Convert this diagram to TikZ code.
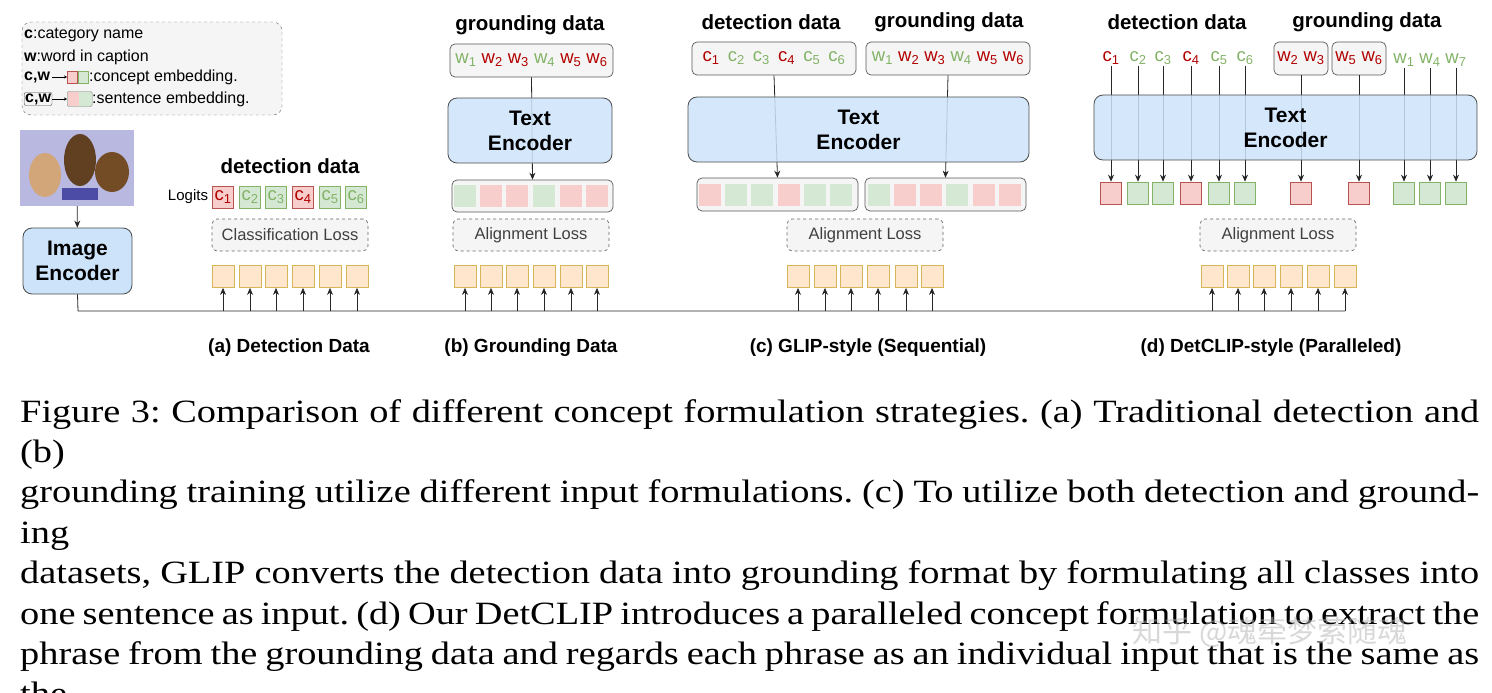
\documentclass[tikz,border=0pt]{standalone}
\usepackage{fontspec}
\setmainfont{Liberation Serif}
\newfontfamily\capf{Liberation Serif}[FakeStretch=1.18]
\newfontfamily\dsans{Liberation Sans}
\newfontfamily\cjkf{Noto Sans CJK SC}
\usetikzlibrary{arrows.meta}
\definecolor{rf}{HTML}{F8CECC}\definecolor{rb}{HTML}{B85450}
\definecolor{gf}{HTML}{D5E8D4}\definecolor{gb}{HTML}{82B366}
\definecolor{yf}{HTML}{FFE6CC}\definecolor{yb}{HTML}{D6B656}
\definecolor{bf}{HTML}{CCE3FA}\definecolor{gbox}{HTML}{F5F5F5}
\definecolor{rt}{HTML}{B20000}\definecolor{gt}{HTML}{82B366}
\begin{document}
\frenchspacing
\begin{tikzpicture}[x=1pt,y=-1pt,
  every node/.style={font=\dsans},
  title/.style={font=\dsans\bfseries\fontsize{20.5}{22}\selectfont},
  sub/.style={font=\dsans\bfseries\fontsize{19}{20}\selectfont},
  lbl/.style={font=\dsans\fontsize{18.5}{20}\selectfont},
  enc/.style={draw=black!70,fill=bf,fill opacity=0.85,text opacity=1,rounded corners=9pt,line width=0.8pt,font=\dsans\bfseries\fontsize{21}{25}\selectfont,align=center,inner sep=0},
  gb/.style={draw=black!65,fill=gbox,rounded corners=5pt,line width=0.7pt,inner sep=0},
  loss/.style={draw=black!60,dashed,fill=gbox,rounded corners=5pt,line width=0.7pt,minimum width=156pt,minimum height=32pt,font=\dsans\fontsize{16.5}{18}\selectfont,text=black!75},
  ysq/.style={draw=yb,fill=yf,line width=0.8pt,minimum width=22pt,minimum height=22pt,inner sep=0},
  rsq/.style={draw=rb,fill=rf,line width=0.7pt,minimum width=21pt,minimum height=22pt,inner sep=0},
  gsq/.style={draw=gb,fill=gf,line width=0.7pt,minimum width=21pt,minimum height=22pt,inner sep=0},
  re/.style={fill=rf,minimum width=22pt,minimum height=22pt,inner sep=0},
  ge/.style={fill=gf,minimum width=22pt,minimum height=22pt,inner sep=0},
  arr/.style={-{Stealth[length=7pt,width=6pt]},line width=0.8pt},
  ln/.style={line width=0.8pt,black!85}]
\useasboundingbox (0,0) rectangle (1492,693);
% legend
\node[draw=black!60,dashed,fill=gbox,rounded corners=9pt,minimum width=260pt,minimum height=93pt,inner sep=0] (leg) at (152,68.5) {};
\begin{scope}[every node/.style={font=\dsans\fontsize{16}{18}\selectfont,anchor=west,inner sep=0}]
\node (l1) at (24,35) {\textbf{c}:category name};
\node (l2) at (24,57) {\textbf{w}:word in caption};
\node (l3) at (24,77) {\textbf{c,w}};
\node[fill=rf,draw=rb,minimum width=10pt,minimum height=12pt] (l3r) at (67,77) {};
\node[fill=gf,draw=gb,minimum width=10pt,minimum height=12pt] (l3g) at (78,77) {};
\node (l3t) at (89,77) {:concept embedding.};
\node[draw=black!70,rounded corners=2pt,inner sep=1pt] (l4) at (24,99) {\textbf{c,w}};
\node[draw=black!50,fill=gf,rounded corners=2pt,minimum width=25pt,minimum height=15pt] (l4b) at (67,99) {};
\node (l3tt) at (92,99) {:sentence embedding.};
\end{scope}
\fill[rf] (68,92.5) rectangle (79,105.5);
\draw[line width=0.6pt,-{Stealth[length=3pt,width=3pt]}] (l3.east) ++(2pt,0) -- (l3r.west);
\draw[line width=0.6pt,-{Stealth[length=3pt,width=3pt]}] (l4.east) -- (l4b.west);
% image
\node[fill=gray!60!blue!40,minimum width=114pt,minimum height=76pt,inner sep=0] (img) at (77,168) {};
\fill[brown!70!white] (45,175) ellipse (16pt and 22pt);
\fill[brown!50!black] (80,160) ellipse (16pt and 26pt);
\fill[brown!60!black] (112,172) ellipse (17pt and 20pt);
\fill[blue!50!black!70] (62,188) rectangle (98,200);
\node[enc,fill opacity=1,minimum width=109pt,minimum height=66pt] (ie) at (77.5,261) {Image\\Encoder};
\draw[ln,arr] (img) -- (ie);
% (a)
\node[title] (ta) at (290,166) {detection data};
\node[lbl,font=\dsans\fontsize{15}{17}\selectfont] (lg) at (188,197) {Logits};
\foreach \x/\s/\i in {223/r/1,250/g/2,276/g/3,303/r/4,330/g/5,356/g/6}{
  \if\s r\node[rsq,text=rt,lbl] (ac\i) at (\x,197) {c\textsubscript{\i}};
  \else\node[gsq,text=gt,lbl] (ac\i) at (\x,197) {c\textsubscript{\i}};\fi}
\node[loss] (la) at (290,235) {Classification Loss};
% (b)
\node[title] (tb) at (530,25) {grounding data};
\node[gb,minimum width=163pt,minimum height=33pt,lbl] (gbx) at (531.5,60.5) {\textcolor{gt}{w\textsubscript{1}} \textcolor{rt}{w\textsubscript{2}} \textcolor{rt}{w\textsubscript{3}} \textcolor{gt}{w\textsubscript{4}} \textcolor{rt}{w\textsubscript{5}} \textcolor{rt}{w\textsubscript{6}}};
\node[gb,minimum width=161pt,minimum height=32pt] (eb) at (532.5,196) {};
\foreach \x/\s in {465/g,491/r,517/r,544/g,571/r,597/r}{\node[\s e] at (\x,196) {};}
\draw[ln,arr] (gbx.south) -- (eb.north);
\node[enc,minimum width=164pt,minimum height=65pt] (teb) at (530,130.5) {Text\\Encoder};
\node[loss] (lb) at (531,235) {Alignment Loss};
% (c)
\node[title] (tc1) at (771,22) {detection data};
\node[title] (tc2) at (949,22) {grounding data};
\node[gb,minimum width=164pt,minimum height=33pt,lbl] (cd) at (774,58.5) {\textcolor{rt}{c\textsubscript{1}}\, \textcolor{gt}{c\textsubscript{2}}\, \textcolor{gt}{c\textsubscript{3}}\, \textcolor{rt}{c\textsubscript{4}}\, \textcolor{gt}{c\textsubscript{5}}\, \textcolor{gt}{c\textsubscript{6}}};
\node[gb,minimum width=164pt,minimum height=33pt,lbl] (cg) at (948,58.5) {\textcolor{gt}{w\textsubscript{1}} \textcolor{rt}{w\textsubscript{2}} \textcolor{rt}{w\textsubscript{3}} \textcolor{gt}{w\textsubscript{4}} \textcolor{rt}{w\textsubscript{5}} \textcolor{rt}{w\textsubscript{6}}};
\node[gb,minimum width=161pt,minimum height=33pt] (ec1) at (777.5,194.5) {};
\node[gb,minimum width=161pt,minimum height=33pt] (ec2) at (945.5,194.5) {};
\foreach \x/\s in {710/r,736/g,762/g,789/r,815/g,841/g,879/g,905/r,931/r,957/g,984/r,1010/r}{\node[\s e] at (\x,194.5) {};}
\draw[ln,arr] (cd.south) -- (ec1.north);
\draw[ln,arr] (cg.south) -- (ec2.north);
\node[enc,minimum width=341pt,minimum height=65pt] (tec) at (858.5,129.5) {Text\\Encoder};
\node[loss] (lc) at (865,235) {Alignment Loss};
% (d)
\node[title] (td1) at (1177,22) {detection data};
\node[title] (td2) at (1367,22) {grounding data};
\foreach \x/\s/\i in {1111/r/1,1138/g/2,1163/g/3,1191/r/4,1219/g/5,1245/g/6}{
  \if\s r\node[lbl,text=rt,inner sep=1pt] (dc\i) at (\x,58) {c\textsubscript{\i}};
  \else\node[lbl,text=gt,inner sep=1pt] (dc\i) at (\x,58) {c\textsubscript{\i}};\fi
  \node[\s sq] (dcb\i) at (\x,193) {};
  \draw[ln,arr] (dc\i.south) -- (dcb\i.north);}
\node[gb,minimum width=54pt,minimum height=33pt,lbl,text=rt] (dw1) at (1301,58.5) {w\textsubscript{2} w\textsubscript{3}};
\node[gb,minimum width=54pt,minimum height=33pt,lbl,text=rt] (dw2) at (1359,58.5) {w\textsubscript{5} w\textsubscript{6}};
\node[rsq] (dwb1) at (1301,193) {};
\node[rsq] (dwb2) at (1359,193) {};
\draw[ln,arr] (dw1.south) -- (dwb1.north);
\draw[ln,arr] (dw2.south) -- (dwb2.north);
\foreach \x/\i in {1404/1,1430/4,1456/7}{
  \node[lbl,text=gt,inner sep=1pt] (dg\i) at (\x,60) {w\textsubscript{\i}};
  \node[gsq] (dgb\i) at (\x,193) {};
  \draw[ln,arr] (dg\i.south) -- (dgb\i.north);}
\node[enc,minimum width=383pt,minimum height=65pt] (ted) at (1285.5,127.5) {Text\\Encoder};
\node[loss] (ld) at (1278,235) {Alignment Loss};
% yellow rows + backbone line
\coordinate (c0) at (78,311);
\draw[ln] (ie.south) -- (c0) -- (1345,311);
\foreach \row/\xs in {a/{223,250,276,303,330,357},b/{465,491,517,544,571,597},c/{798,825,851,878,906,932},d/{1212,1238,1264,1291,1318,1345}}{
  \foreach \x [count=\k] in \xs {
    \node[ysq] (y\row\k) at (\x,276.5) {};
    \coordinate (p\row\k) at (\x,311);
    \draw[ln,arr] (p\row\k) -- (y\row\k.south);}}
% sub-captions
\node[sub] (sa) at (289,348) {(a) Detection Data};
\node[sub] (sb) at (531,348) {(b) Grounding Data};
\node[sub] (sc) at (868,348) {(c) GLIP-style (Sequential)};
\node[sub] (sd) at (1271,348) {(d) DetCLIP-style (Paralleled)};
% caption
\node[anchor=north west,inner sep=0,text width=1459pt,align=justify,font=\capf\fontsize{32.5}{40.4}\selectfont] (cap) at (20,399) {Figure 3: Comparison of different concept formulation strategies. (a) Traditional detection and (b)\linebreak grounding training utilize different input formulations. (c) To utilize both detection and grounding\linebreak datasets, GLIP converts the detection data into grounding format by formulating all classes into\linebreak one sentence as input. (d) Our DetCLIP introduces a paralleled concept formulation to extract the\linebreak phrase from the grounding data and regards each phrase as an individual input that is the same as the\linebreak category name in the detection dataset. Red color denotes that the corresponding concept is in the\linebreak image while the green indicates the concept is not in the image.};
\node[font=\cjkf\fontsize{30}{32}\selectfont,text=black!30,opacity=0.5] (wm) at (1270,632) {知乎 @魂牵梦萦随魂};
\end{tikzpicture}
\end{document}
